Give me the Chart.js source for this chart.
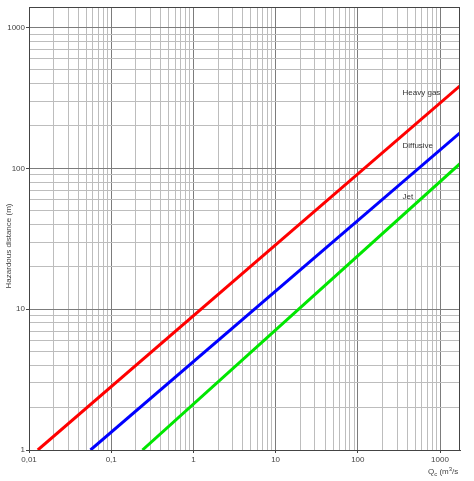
<!DOCTYPE html>
<html>
<head>
<meta charset="utf-8">
<script src="https://cdn.jsdelivr.net/npm/chart.js@4/dist/chart.umd.min.js"></script>
<style>
  html, body { margin: 0; padding: 0; background: #fff; }
  #wrap { position: relative; width: 474px; height: 481px; }
</style>
</head>
<body>
<div id="wrap"><canvas id="chart"></canvas></div>
<script>
// values (line end points on the plot frame)
const heavyQ = [0.0128, 1750];
const heavyDist = [1, 386];
const diffusiveQ = [0.056, 1750];
const diffusiveDist = [1, 179];
const jetQ = [0.24, 1750];
const jetDist = [1, 108];

const xDecades = [0.01, 0.1, 1, 10, 100, 1000];
const yDecades = [1, 10, 100, 1000];
const xLabels = ['0,01', '0,1', '1', '10', '100', '1000'];
const yLabels = ['1', '10', '100', '1000'];

const curveNames = ['Heavy gas', 'Diffusive', 'Jet'];
const curveNameQ = [350, 350, 350];
const curveNameDist = [345, 145, 63];

const X_MIN = 0.01, X_MAX = 1750, Y_MIN = 1, Y_MAX = 1400;

function toPoints(xs, ys) {
  return xs.map((x, i) => ({ x, y: ys[i] }));
}

// 1..9 x every decade, kept inside the range
function logTicks(decades, min, max) {
  const out = [];
  decades.forEach(d => {
    for (let m = 1; m <= 9; m++) {
      const v = +(d * m).toPrecision(6);
      if (v >= min && v <= max) out.push({ value: v });
    }
  });
  return out;
}

function isDecade(v) {
  const l = Math.log10(v);
  return Math.abs(l - Math.round(l)) < 1e-6;
}

function labelFor(v, decades, labels) {
  const i = decades.findIndex(d => Math.abs(d - v) / d < 1e-6);
  return i >= 0 ? labels[i] : '';
}

const FONT = '"Liberation Sans", Arial, sans-serif';

const framePlugin = {
  id: 'frame',
  afterDraw(chart) {
    const { ctx, chartArea: a, scales } = chart;
    ctx.save();
    ctx.strokeStyle = '#444';
    ctx.lineWidth = 1;
    ctx.strokeRect(a.left + 0.5, a.top + 0.5, a.right - a.left - 1, a.bottom - a.top);

    // curve names
    ctx.fillStyle = '#333';
    ctx.font = '8px ' + FONT;
    ctx.textAlign = 'left';
    ctx.textBaseline = 'middle';
    curveNames.forEach((n, i) => {
      ctx.fillText(n, scales.x.getPixelForValue(curveNameQ[i]), scales.y.getPixelForValue(curveNameDist[i]));
    });

    // y title
    ctx.save();
    ctx.translate(9, 246);
    ctx.rotate(-Math.PI / 2);
    ctx.textAlign = 'center';
    ctx.fillStyle = '#444';
    ctx.fillText('Hazardous distance (m)', 0, 0);
    ctx.restore();

    // x title with sub/superscript
    const parts = [
      { t: 'Q', s: 8, dy: 0 },
      { t: 'c', s: 6, dy: 2 },
      { t: ' (m', s: 8, dy: 0 },
      { t: '3', s: 6, dy: -3 },
      { t: '/s', s: 8, dy: 0 }
    ];
    let x = 428;
    const y = 472;
    ctx.textAlign = 'left';
    ctx.fillStyle = '#444';
    parts.forEach(p => {
      ctx.font = p.s + 'px ' + FONT;
      ctx.fillText(p.t, x, y + p.dy);
      x += ctx.measureText(p.t).width;
    });
    ctx.restore();
  }
};

function gridColor(c) {
  return c.tick && isDecade(c.tick.value) ? '#7c7c7c' : '#bdbdbd';
}
function tickColor(c) {
  return c.tick && isDecade(c.tick.value) ? '#444' : 'rgba(0,0,0,0)';
}

new Chart(document.getElementById('chart'), {
  type: 'line',
  data: {
    datasets: [
      { label: 'Heavy gas', data: toPoints(heavyQ, heavyDist), borderColor: '#ff0000' },
      { label: 'Diffusive', data: toPoints(diffusiveQ, diffusiveDist), borderColor: '#0000ff' },
      { label: 'Jet', data: toPoints(jetQ, jetDist), borderColor: '#00e600' }
    ].map(ds => ({ ...ds, borderWidth: 3, pointRadius: 0, fill: false, tension: 0 }))
  },
  options: {
    responsive: true,
    maintainAspectRatio: false,
    animation: false,
    layout: { padding: { left: 0, right: 14, top: 7, bottom: 0 } },
    plugins: { legend: { display: false }, tooltip: { enabled: false } },
    scales: {
      x: {
        type: 'logarithmic',
        min: X_MIN,
        max: X_MAX,
        afterBuildTicks: s => { s.ticks = logTicks(xDecades, X_MIN, X_MAX); },
        afterFit: s => { s.height = 31; },
        ticks: {
          autoSkip: false,
          maxRotation: 0,
          padding: 2,
          color: '#444',
          font: { family: FONT, size: 8 },
          callback: v => labelFor(v, xDecades, xLabels)
        },
        grid: { color: gridColor, tickColor: tickColor, tickLength: 3, lineWidth: 1 },
        border: { color: '#444', width: 1 }
      },
      y: {
        type: 'logarithmic',
        min: Y_MIN,
        max: Y_MAX,
        afterBuildTicks: s => { s.ticks = logTicks(yDecades, Y_MIN, Y_MAX); },
        afterFit: s => { s.width = 29; },
        ticks: {
          autoSkip: false,
          padding: 1,
          color: '#444',
          font: { family: FONT, size: 8 },
          callback: v => labelFor(v, yDecades, yLabels)
        },
        grid: { color: gridColor, tickColor: tickColor, tickLength: 3, lineWidth: 1 },
        border: { color: '#444', width: 1 }
      }
    }
  },
  plugins: [framePlugin]
});
</script>
</body>
</html>
